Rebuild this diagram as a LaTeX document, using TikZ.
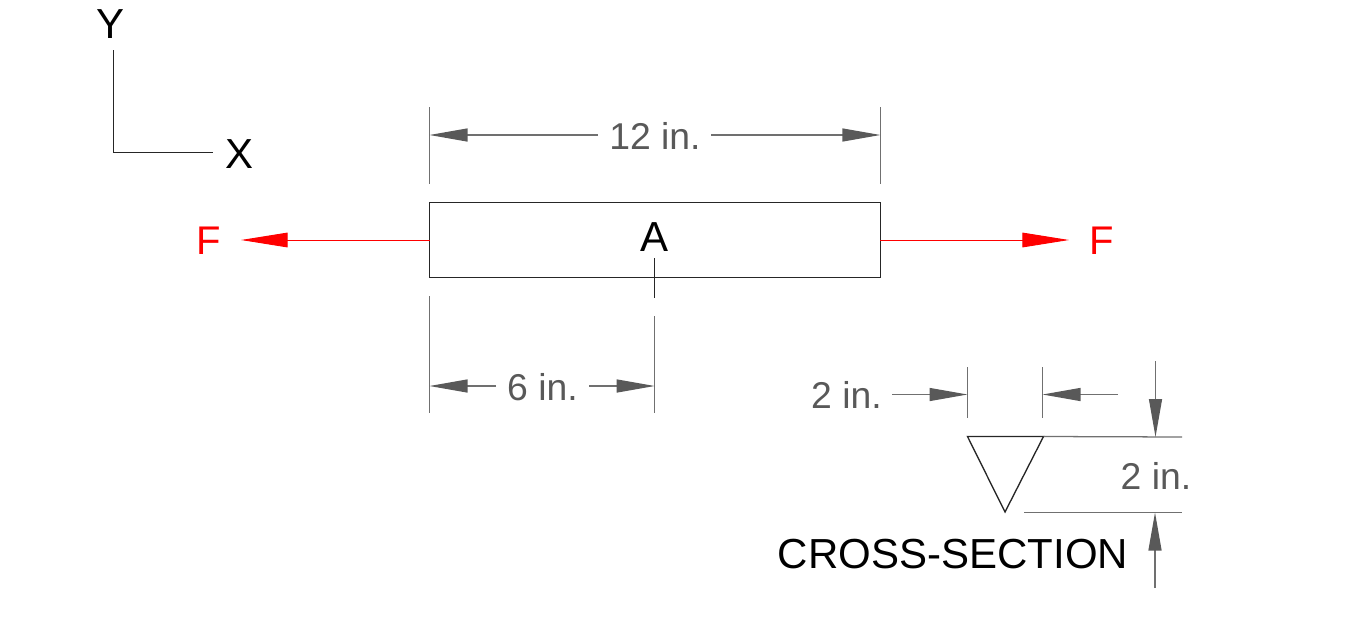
\documentclass[tikz,border=0pt]{standalone}
\usepackage{fontspec}
\setmainfont{Liberation Sans}
\usetikzlibrary{arrows.meta}
\definecolor{dimgray}{HTML}{595959}
\definecolor{extgray}{HTML}{707070}
\tikzset{x=0.75pt,y=-0.75pt,
 extline/.style={draw=extgray,line width=0.95pt},
 dimline/.style={draw=extgray,line width=0.95pt,-{Triangle[length=28.5pt,width=9.75pt,color=dimgray]}},
 outline/.style={draw=black!85,line width=1pt},
 redline/.style={draw=red,line width=0.7pt,-{Triangle[length=35pt,width=11pt,color=red]}},
 dimtext/.style={text=dimgray,font=\fontsize{28pt}{30pt}\selectfont,inner sep=0pt,anchor=base},
 blacktext/.style={text=black,font=\fontsize{31.5pt}{34pt}\selectfont,inner sep=0pt,anchor=base},
 redtext/.style={text=red,font=\fontsize{30pt}{34pt}\selectfont,inner sep=0pt,anchor=base}}
\begin{document}
\begin{tikzpicture}
\useasboundingbox (0,0) rectangle (1357,640);
% axes
\node[blacktext] (ylab) at (111,38) {Y};
\node[blacktext] (xlab) at (239.5,168) {X};
\coordinate (ytop) at (113.5,50);
\coordinate (orig) at (113.5,152.5);
\coordinate (xend) at (213,152.5);
\draw[outline] (ytop) -- (orig) -- (xend);
% bar
\coordinate (barTL) at (429.5,202.5);
\coordinate (barBR) at (880.4,277.5);
\coordinate (barML) at (429.5,240);
\coordinate (barMR) at (880.4,240);
\draw[outline] (barTL) rectangle (barBR);
% forces
\node[redtext] (fl) at (209,254) {F};
\node[redtext] (fr) at (1102,254) {F};
\coordinate (flt) at (241,240);
\coordinate (frt) at (1069,240);
\draw[redline] (barML) -- (flt);
\draw[redline] (barMR) -- (frt);
% point A
\node[blacktext] (a) at (655,251) {A};
\coordinate (at) at (654.7,258);
\coordinate (ab) at (654.7,298);
\draw[outline] (at) -- (ab);
% 12 in.
\coordinate (t1a) at (429.5,107); \coordinate (t1b) at (429.5,184);
\coordinate (t2a) at (880.4,107); \coordinate (t2b) at (880.4,184);
\draw[extline] (t1a) -- (t1b);
\draw[extline] (t2a) -- (t2b);
\node[dimtext] (d12) at (655,149) {12 in.};
\coordinate (d12l) at (429.5,135); \coordinate (d12la) at (598,135);
\coordinate (d12r) at (880.4,135); \coordinate (d12ra) at (711,135);
\draw[dimline] (d12la) -- (d12l);
\draw[dimline] (d12ra) -- (d12r);
% 6 in.
\coordinate (s1a) at (429.5,296); \coordinate (s1b) at (429.5,413);
\coordinate (s2a) at (654.7,316); \coordinate (s2b) at (654.7,413);
\draw[extline] (s1a) -- (s1b);
\draw[extline] (s2a) -- (s2b);
\node[dimtext] (d6) at (542.5,400) {6 in.};
\coordinate (d6l) at (429.5,386); \coordinate (d6la) at (496,386);
\coordinate (d6r) at (654.7,386); \coordinate (d6ra) at (589,386);
\draw[dimline] (d6la) -- (d6l);
\draw[dimline] (d6ra) -- (d6r);
% cross-section
\coordinate (tl) at (967.5,436.5);
\coordinate (tr) at (1043.5,436.5);
\coordinate (tb) at (1005,512);
\draw[outline,line join=miter] (tl) -- (tr) -- (tb) -- cycle;
\node[blacktext] (cs) at (953,568) {CROSS-SECTION};
% width dim
\coordinate (w1a) at (967.5,367); \coordinate (w1b) at (967.5,418);
\coordinate (w2a) at (1042.5,367); \coordinate (w2b) at (1042.5,418);
\draw[extline] (w1a) -- (w1b);
\draw[extline] (w2a) -- (w2b);
\node[dimtext] (dw) at (846.5,408) {2 in.};
\coordinate (wl) at (892,394.5); \coordinate (wlt) at (967.5,394.5);
\coordinate (wr) at (1118,394.5); \coordinate (wrt) at (1042.5,394.5);
\draw[dimline] (wl) -- (wlt);
\draw[dimline] (wr) -- (wrt);
% height dim
\coordinate (h1) at (1182,437); \coordinate (h2a) at (1024,512.5); \coordinate (h2) at (1182,512.5);
\draw[extline] (tr) -- (h1);
\draw[extline] (h2a) -- (h2);
\node[dimtext] (dh) at (1156,489) {2 in.};
\coordinate (vt) at (1155.5,361); \coordinate (vtt) at (1155.5,437);
\coordinate (vb) at (1155,588); \coordinate (vbt) at (1155,512.5);
\draw[dimline] (vt) -- (vtt);
\draw[dimline] (vb) -- (vbt);
\end{tikzpicture}
\end{document}
